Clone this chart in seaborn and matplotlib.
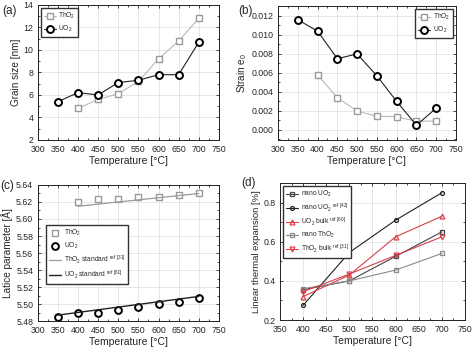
import matplotlib
matplotlib.use("Agg")
from matplotlib import pyplot as plt
from matplotlib.ticker import AutoMinorLocator, MultipleLocator, FormatStrFormatter
import pandas as pd
import numpy as np
import seaborn as sns

# (a) grain size
temp_tho2 = [400, 450, 500, 550, 600, 650, 700]
temp_uo2 = [350, 400, 450, 500, 550, 600, 650, 700]
grain_tho2 = [4.8, 5.6, 6.1, 7.2, 9.2, 10.8, 12.8]
grain_uo2 = [5.4, 6.2, 6.0, 7.1, 7.3, 7.8, 7.8, 10.7]

# (b) strain
strain_tho2 = [0.0058, 0.0034, 0.0020, 0.00145, 0.0014, 0.0009, 0.00095]
strain_uo2 = [0.0116, 0.0104, 0.0075, 0.0080, 0.0057, 0.0030, 0.0005, 0.0023]

# (c) lattice parameter
latt_tho2 = [5.620, 5.623, 5.623, 5.626, 5.626, 5.628, 5.631]
latt_uo2 = [5.485, 5.490, 5.490, 5.493, 5.496, 5.500, 5.503, 5.507]
std_tho2_t = [400, 700]
std_tho2 = [5.615, 5.630]
std_uo2_t = [350, 700]
std_uo2 = [5.487, 5.509]

# (d) linear thermal expansion
temp_d = [400, 500, 600, 700]
lte_nano_uo2 = [0.355, 0.400, 0.525, 0.650]
lte_nano_uo2_ref = [0.275, 0.545, 0.710, 0.850]
lte_uo2_bulk = [0.320, 0.430, 0.625, 0.730]
lte_nano_tho2 = [0.360, 0.400, 0.455, 0.540]
lte_tho2_bulk = [0.345, 0.435, 0.530, 0.625]

sns.set_style("ticks")
plt.rcParams['font.family'] = ['Liberation Sans', 'DejaVu Sans']
plt.rcParams['mathtext.default'] = 'regular'
plt.rcParams['font.size'] = 6.5

GRAY = '#9a9a9a'
LGRAY = '#b8b8b8'
RED = '#d8404a'

fig = plt.figure(figsize=(4.74, 3.49), dpi=100)
ax_a = fig.add_axes([0.0795, 0.599, 0.3825, 0.387])
ax_b = fig.add_axes([0.5865, 0.599, 0.3755, 0.384])
ax_c = fig.add_axes([0.0795, 0.080, 0.3825, 0.390])
ax_d = fig.add_axes([0.5907, 0.083, 0.390, 0.3926])


def style(ax, xlim, xstep, ylim, ystep):
    ax.set_xlim(*xlim)
    ax.set_ylim(*ylim)
    ax.xaxis.set_major_locator(MultipleLocator(xstep))
    ax.yaxis.set_major_locator(MultipleLocator(ystep))
    ax.xaxis.set_minor_locator(AutoMinorLocator(2))
    ax.yaxis.set_minor_locator(AutoMinorLocator(2))
    ax.grid(True, which='major', color='#e2e2e2', lw=0.6)
    ax.tick_params(which='both', direction='in', top=True, right=True,
                   labelsize=6.3, width=0.6)
    ax.tick_params(axis='x', pad=3.4)
    ax.tick_params(axis='y', pad=3.2)
    ax.tick_params(which='major', length=2.5)
    ax.tick_params(which='minor', length=1.5)
    for s in ax.spines.values():
        s.set_linewidth(0.7)
        s.set_color('#222222')
    ax.set_xlabel('Temperature [°C]', fontsize=7.5, labelpad=1.5)


def legend(ax, spacing=0.45, **kw):
    ax.legend(fontsize=4.8, frameon=True, fancybox=False, edgecolor='#333333',
              handlelength=1.8, handletextpad=0.4, borderpad=0.4,
              labelspacing=spacing, framealpha=1, **kw)


# (a)
sns.lineplot(x=temp_tho2, y=grain_tho2, ax=ax_a, color=LGRAY, lw=0.8, marker='s',
             markersize=4.5, markerfacecolor='white', markeredgecolor=GRAY,
             markeredgewidth=1.0, label='ThO$_2$')
sns.lineplot(x=temp_uo2, y=grain_uo2, ax=ax_a, color='#222222', lw=0.8, marker='o',
             markersize=5, markerfacecolor='white', markeredgecolor='black',
             markeredgewidth=1.4, label='UO$_2$')
style(ax_a, (300, 750), 50, (2, 14), 2)
ax_a.set_ylabel('Grain size [nm]', fontsize=7.2, labelpad=2)
legend(ax_a, loc='upper left')

# (b)
sns.lineplot(x=temp_tho2, y=strain_tho2, ax=ax_b, color=LGRAY, lw=0.8, marker='s',
             markersize=4.5, markerfacecolor='white', markeredgecolor=GRAY,
             markeredgewidth=1.0, label='ThO$_2$')
sns.lineplot(x=temp_uo2, y=strain_uo2, ax=ax_b, color='#222222', lw=0.8, marker='o',
             markersize=5, markerfacecolor='white', markeredgecolor='black',
             markeredgewidth=1.4, label='UO$_2$')
style(ax_b, (300, 750), 50, (-0.00105, 0.01305), 0.002)
ax_b.yaxis.set_major_formatter(FormatStrFormatter('%.3f'))
ax_b.set_ylabel('Strain e$_0$', fontsize=7.2, labelpad=2)
legend(ax_b, loc='upper right')

# (c)
sns.scatterplot(x=temp_tho2, y=latt_tho2, ax=ax_c, marker='s', s=18,
                facecolor='white', edgecolor=GRAY, linewidth=1.0, label='ThO$_2$')
sns.scatterplot(x=temp_uo2, y=latt_uo2, ax=ax_c, marker='o', s=24,
                facecolor='white', edgecolor='black', linewidth=1.4, label='UO$_2$')
sns.lineplot(x=std_tho2_t, y=std_tho2, ax=ax_c, color=GRAY, lw=0.9,
             label='ThO$_2$ standard $^{ref\\ [31]}$')
sns.lineplot(x=std_uo2_t, y=std_uo2, ax=ax_c, color='#222222', lw=1.0,
             label='UO$_2$ standard $^{ref\\ [60]}$')
style(ax_c, (300, 750), 50, (5.48, 5.64), 0.02)
ax_c.yaxis.set_major_formatter(FormatStrFormatter('%.2f'))
ax_c.set_ylabel('Latice parameter [Å]', fontsize=7.2, labelpad=2)
legend(ax_c, spacing=0.4, loc='center left', bbox_to_anchor=(0.03, 0.49))

# (d)
series_d = [
    (lte_nano_uo2, 'nano UO$_2$', '#444444', 's', 2.5),
    (lte_nano_uo2_ref, 'nano UO$_2$ $^{ref\\ [42]}$', '#222222', 'o', 2.8),
    (lte_uo2_bulk, 'UO$_2$ bulk $^{ref\\ [60]}$', RED, '^', 3.5),
    (lte_nano_tho2, 'nano ThO$_2$', '#8a8a8a', 's', 2.5),
    (lte_tho2_bulk, 'ThO$_2$ bulk $^{ref\\ [31]}$', RED, 'v', 3.5),
]
for vals, lab, col, mk, ms in series_d:
    sns.lineplot(x=temp_d, y=vals, ax=ax_d, color=col, lw=0.8, marker=mk,
                 markersize=ms, markerfacecolor='none', markeredgecolor=col,
                 markeredgewidth=0.9, label=lab)
style(ax_d, (350, 750), 50, (0.2, 0.9), 0.2)
ax_d.set_ylabel('Linear thermal expansion [%]', fontsize=6.8, labelpad=2)
legend(ax_d, spacing=0.3, loc='upper left')

for lab, x, y in [('(a)', 0.005, 0.985), ('(b)', 0.502, 0.985),
                  ('(c)', 0.0, 0.485), ('(d)', 0.508, 0.492)]:
    fig.text(x, y, lab, fontsize=8.5, va='top', ha='left')

plt.savefig('out.png', dpi=100)
